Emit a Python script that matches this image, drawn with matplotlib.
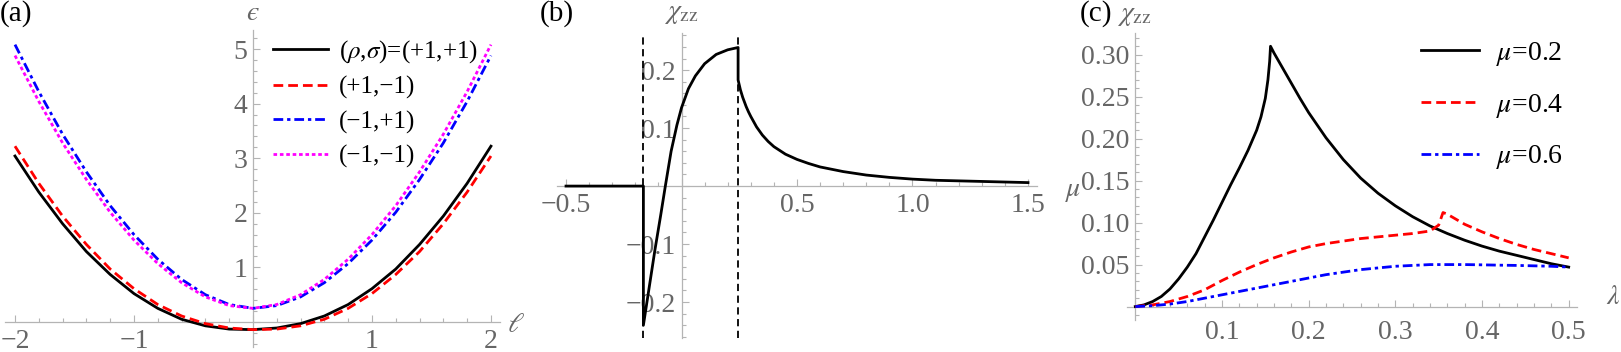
import matplotlib
matplotlib.use("Agg")
import matplotlib.pyplot as plt
from matplotlib.ticker import MultipleLocator

plt.rcParams['font.family'] = 'serif'
plt.rcParams['font.serif'] = ['Liberation Serif', 'DejaVu Serif']
plt.rcParams['mathtext.fontset'] = 'stix'

# panel (a): dispersion for the four (rho, sigma) branches
ell = [-2.0, -1.8, -1.6, -1.4, -1.2, -1.0, -0.8, -0.6, -0.4, -0.2, 0.0,
       0.2, 0.4, 0.6, 0.8, 1.0, 1.2, 1.4, 1.6, 1.8, 2.0]
eps_pp = [3.04, 2.38, 1.80, 1.29, 0.87, 0.52, 0.25, 0.05, -0.07, -0.13, -0.14,
          -0.11, -0.03, 0.11, 0.32, 0.61, 0.97, 1.42, 1.94, 2.54, 3.22]
eps_pm = [3.22, 2.54, 1.94, 1.42, 0.97, 0.61, 0.32, 0.11, -0.03, -0.11, -0.14,
          -0.13, -0.07, 0.05, 0.25, 0.52, 0.87, 1.29, 1.80, 2.38, 3.04]
eps_mp = [5.08, 4.22, 3.44, 2.75, 2.13, 1.60, 1.15, 0.78, 0.50, 0.32, 0.25,
          0.30, 0.46, 0.72, 1.07, 1.50, 2.01, 2.61, 3.28, 4.04, 4.88]
eps_mm = [4.88, 4.04, 3.28, 2.61, 2.01, 1.50, 1.07, 0.72, 0.46, 0.30, 0.25,
          0.32, 0.50, 0.78, 1.15, 1.60, 2.13, 2.75, 3.44, 4.22, 5.08]
labels_a = [r'($\rho$,$\sigma$)=(+1,+1)', '(+1,\u22121)', '(\u22121,+1)', '(\u22121,\u22121)']

# panel (b): chi_zz vs mu
mu_b = [-0.5, -0.165, -0.165, -0.14, -0.115, -0.09, -0.07, -0.045, -0.02, 0.0,
        0.03, 0.06, 0.1, 0.15, 0.2, 0.245, 0.245, 0.255, 0.265, 0.28, 0.29,
        0.3, 0.325, 0.35, 0.375, 0.4, 0.45, 0.5, 0.55, 0.6, 0.7, 0.8, 0.9,
        1.0, 1.1, 1.2, 1.3, 1.4, 1.5]
chi_b = [0.0, 0.0, -0.24, -0.175, -0.11, -0.05, 0.0, 0.06, 0.105, 0.135,
         0.168, 0.19, 0.211, 0.227, 0.235, 0.239, 0.183, 0.166, 0.153, 0.137, 0.128,
         0.12, 0.102, 0.088, 0.077, 0.068, 0.055, 0.046, 0.039, 0.033, 0.025,
         0.019, 0.015, 0.012, 0.010, 0.009, 0.008, 0.007, 0.006]
crit_b = [-0.165, 0.245]

# panel (c): chi_zz vs lambda for three mu
lam_02 = [0, 0.01, 0.02, 0.03, 0.04, 0.05, 0.06, 0.07, 0.08, 0.09, 0.10, 0.11,
          0.12, 0.13, 0.14, 0.145, 0.15, 0.153, 0.155, 0.156, 0.16, 0.17, 0.18,
          0.19, 0.2, 0.22, 0.24, 0.26, 0.28, 0.3, 0.32, 0.34, 0.36, 0.38, 0.4,
          0.42, 0.44, 0.46, 0.48, 0.5]
chi_02 = [0, 0.002, 0.006, 0.012, 0.021, 0.033, 0.047, 0.063, 0.083, 0.103, 0.124,
          0.145, 0.165, 0.186, 0.21, 0.226, 0.248, 0.27, 0.292, 0.31, 0.302,
          0.284, 0.266, 0.248, 0.231, 0.201, 0.175, 0.153, 0.135, 0.12, 0.107,
          0.096, 0.087, 0.079, 0.072, 0.066, 0.061, 0.056, 0.051, 0.047]
lam_04 = [0, 0.02, 0.04, 0.06, 0.08, 0.1, 0.12, 0.14, 0.16, 0.18, 0.2, 0.22,
          0.24, 0.26, 0.28, 0.3, 0.32, 0.34, 0.35, 0.355, 0.36, 0.38, 0.4, 0.42,
          0.44, 0.46, 0.48, 0.5]
chi_04 = [0, 0.002, 0.006, 0.012, 0.02, 0.031, 0.041, 0.05, 0.058, 0.065, 0.071,
          0.075, 0.078, 0.081, 0.083, 0.085, 0.087, 0.090, 0.097, 0.112, 0.110,
          0.098, 0.089, 0.081, 0.074, 0.068, 0.063, 0.058]
lam_06 = [0, 0.02, 0.04, 0.06, 0.08, 0.1, 0.12, 0.14, 0.16, 0.18, 0.2, 0.22,
          0.24, 0.26, 0.28, 0.3, 0.32, 0.34, 0.36, 0.38, 0.4, 0.42, 0.44, 0.46,
          0.48, 0.5]
chi_06 = [0, 0.001, 0.003, 0.006, 0.010, 0.014, 0.018, 0.022, 0.026, 0.030,
          0.034, 0.038, 0.041, 0.044, 0.046, 0.048, 0.049, 0.050, 0.050, 0.050,
          0.0497, 0.0493, 0.049, 0.0485, 0.048, 0.047]
labels_c = [r'$\mu$=0.2', r'$\mu$=0.4', r'$\mu$=0.6']

W, H = 1621, 352
fig = plt.figure(figsize=(W / 100, H / 100), dpi=100)

AXC = '#b4b4b4'
LBC = '#666666'
solid = dict(color='black', lw=2.0, ls='-')
dash = dict(color='#ff0000', lw=2.0, ls=(0, (3.5, 1.8)))
dashdot = dict(color='#0000ff', lw=2.0, ls=(0, (3.5, 1.4, 1.2, 1.4)))
dot = dict(color='#ff00ff', lw=2.0, ls=(0, (1.3, 1.0)))


def px_axes(x0, x1, y0, y1):
    return fig.add_axes([x0 / W, 1 - y1 / H, (x1 - x0) / W, (y1 - y0) / H])


def style(ax, xmaj, xmin, ymaj, ymin):
    for s in ['top', 'right']:
        ax.spines[s].set_visible(False)
    for s in ['left', 'bottom']:
        ax.spines[s].set_position(('data', 0))
        ax.spines[s].set_color(AXC)
        ax.spines[s].set_linewidth(0.9)
    ax.xaxis.set_major_locator(MultipleLocator(xmaj))
    ax.xaxis.set_minor_locator(MultipleLocator(xmin))
    ax.yaxis.set_major_locator(MultipleLocator(ymaj))
    ax.yaxis.set_minor_locator(MultipleLocator(ymin))
    ax.tick_params(which='both', direction='in', color=AXC, width=0.8,
                   labelcolor=LBC, labelsize=20)
    ax.tick_params(which='major', length=5)
    ax.tick_params(which='minor', length=2.8)
    ax.tick_params(axis='x', pad=5)
    ax.tick_params(axis='y', pad=4)
    ax.patch.set_alpha(0)


def fmt(ticks, nd):
    out = []
    for t in ticks:
        if abs(t) < 1e-9:
            out.append('')
        else:
            out.append(('%.*f' % (nd, t)).replace('-', '\u2212'))
    return out


# (a)
ax = px_axes(5, 500, 30, 347)
ax.plot(ell, eps_pp, zorder=3, label=labels_a[0], **solid)
ax.plot(ell, eps_pm, zorder=3, label=labels_a[1], **dash)
ax.plot(ell, eps_mp, zorder=3, label=labels_a[2], **dashdot)
ax.plot(ell, eps_mm, zorder=3, label=labels_a[3], **dot)
ax.set_xlim(-2.084, 2.076)
ax.set_ylim(-0.458, 5.348)
style(ax, 1, 0.2, 1, 0.2)
xt = [-2, -1, 0, 1, 2]
yt = [0, 1, 2, 3, 4, 5]
ax.set_xticks(xt, fmt(xt, 0))
ax.set_yticks(yt, fmt(yt, 0))
ax.legend(loc='upper left', bbox_to_anchor=(273 / W, 1 - 38 / H),
          bbox_transform=fig.transFigure, frameon=False, fontsize=18,
          handlelength=2.2, handletextpad=0.45, labelspacing=0.45,
          borderpad=0, borderaxespad=0)

# (b)
ax = px_axes(557, 1037, 33, 338)
ax.plot(mu_b, chi_b, zorder=3, **solid)
for xc in crit_b:
    ax.axvline(xc, color='black', lw=1.3, ls=(0, (4, 2.5)), zorder=3)
ax.set_xlim(-0.539, 1.539)
ax.set_ylim(-0.262, 0.264)
style(ax, 0.5, 0.1, 0.1, 0.02)
xt = [-0.5, 0, 0.5, 1.0, 1.5]
yt = [-0.2, -0.1, 0, 0.1, 0.2]
ax.set_xticks(xt, fmt(xt, 1))
ax.set_yticks(yt, fmt(yt, 1))

# (c)
ax = px_axes(1127, 1577, 33, 320)
ax.plot(lam_02, chi_02, zorder=3, label=labels_c[0], **solid)
ax.plot(lam_04, chi_04, zorder=3, label=labels_c[1], **dash)
ax.plot(lam_06, chi_06, zorder=3, label=labels_c[2], **dashdot)
ax.set_xlim(-0.0096, 0.5096)
ax.set_ylim(-0.016, 0.3258)
style(ax, 0.1, 0.02, 0.05, 0.01)
xt = [0, 0.1, 0.2, 0.3, 0.4, 0.5]
yt = [0, 0.05, 0.10, 0.15, 0.20, 0.25, 0.30]
ax.set_xticks(xt, fmt(xt, 1))
ax.set_yticks(yt, fmt(yt, 2))
ax.tick_params(axis='x', pad=10)
ax.legend(loc='upper left', bbox_to_anchor=(1421 / W, 1 - 40 / H),
          bbox_transform=fig.transFigure, frameon=False, fontsize=20,
          handlelength=2.1, handletextpad=0.6, labelspacing=0.85,
          borderpad=0, borderaxespad=0)

# panel tags and axis names
for x, s in [(0, '(a)'), (540, '(b)'), (1080, '(c)')]:
    fig.text(x / W, 1.0, s, ha='left', va='top', fontsize=21, color='black')
fig.text(253 / W, 1 - 1 / H, '$\u03f5$', ha='center', va='top', fontsize=20, color=LBC)
names = [(516, 325, r'$\ell$'),
         (681, 14, r'$\chi_{\rm zz}$'), (1073, 192, r'$\mu$'),
         (1134, 15, r'$\chi_{\rm zz}$'), (1613, 298, r'$\lambda$')]
for x, y, s in names:
    fig.text(x / W, 1 - y / H, s, ha='center', va='center', fontsize=20, color=LBC)

fig.savefig('out.png', dpi=100)
